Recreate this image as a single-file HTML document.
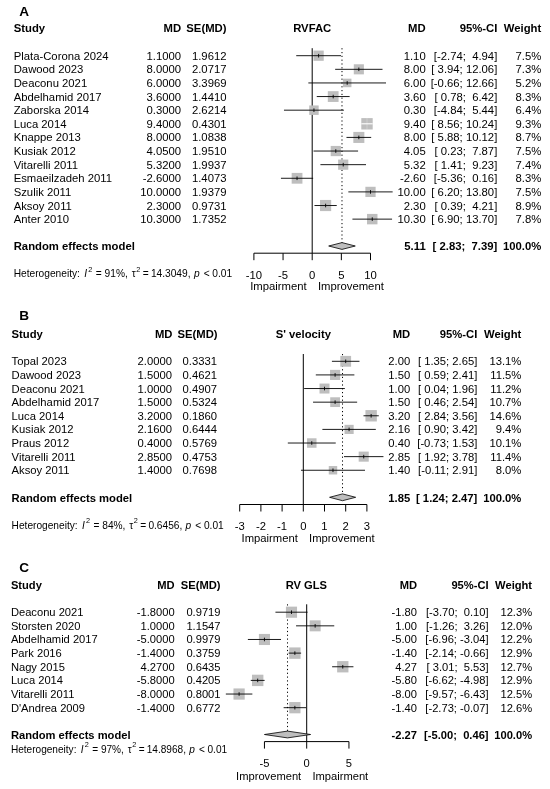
<!DOCTYPE html>
<html><head><meta charset="utf-8"><title>Forest plots</title>
<style>html,body{margin:0;padding:0;background:#fff}svg{display:block}text{font-family:"Liberation Sans",sans-serif;fill:#000;white-space:pre}</style></head>
<body><svg width="550" height="789" viewBox="0 0 550 789">
<text x="19.2" y="15.9" text-anchor="start" style="font-size:13.6px;font-weight:bold;" >A</text>
<text x="13.7" y="32.3" text-anchor="start" style="font-size:11.3px;font-weight:bold;" >Study</text>
<text x="181.1" y="32.3" text-anchor="end" style="font-size:11.3px;font-weight:bold;" >MD</text>
<text x="226.5" y="32.3" text-anchor="end" style="font-size:11.3px;font-weight:bold;" >SE(MD)</text>
<text x="312.2" y="32.3" text-anchor="middle" style="font-size:11.3px;font-weight:bold;" >RVFAC</text>
<text x="425.7" y="32.3" text-anchor="end" style="font-size:11.3px;font-weight:bold;" >MD</text>
<text x="497.3" y="32.3" text-anchor="end" style="font-size:11.3px;font-weight:bold;" >95%-CI</text>
<text x="541.3" y="32.3" text-anchor="end" style="font-size:11.3px;font-weight:bold;" >Weight</text>
<line x1="312.2" y1="48.2" x2="312.2" y2="253.2" stroke="#000" stroke-width="1"/>
<line x1="341.99129999999997" y1="48.2" x2="341.99129999999997" y2="246.4" stroke="#000" stroke-width="1" stroke-dasharray="1.2,2.6"/>
<text x="13.7" y="59.7" text-anchor="start" style="font-size:11.3px;" >Plata-Corona 2024</text>
<text x="181.1" y="59.7" text-anchor="end" style="font-size:11.3px;" >1.1000</text>
<text x="226.5" y="59.7" text-anchor="end" style="font-size:11.3px;" >1.9612</text>
<text x="425.7" y="59.7" text-anchor="end" style="font-size:11.3px;" >1.10</text>
<text x="497.3" y="59.7" text-anchor="end" style="font-size:11.3px;" xml:space="preserve">[-2.74;  4.94]</text>
<text x="541.3" y="59.7" text-anchor="end" style="font-size:11.3px;" >7.5%</text>
<rect x="313.49" y="50.58" width="10.24" height="10.24" fill="#bebebe"/>
<line x1="296.23" y1="55.7" x2="341.00" y2="55.7" stroke="#000" stroke-width="0.9"/>
<line x1="318.61" y1="53.900000000000006" x2="318.61" y2="57.5" stroke="#000" stroke-width="0.9"/>
<text x="13.7" y="73.32000000000001" text-anchor="start" style="font-size:11.3px;" >Dawood 2023</text>
<text x="181.1" y="73.32000000000001" text-anchor="end" style="font-size:11.3px;" >8.0000</text>
<text x="226.5" y="73.32000000000001" text-anchor="end" style="font-size:11.3px;" >2.0717</text>
<text x="425.7" y="73.32000000000001" text-anchor="end" style="font-size:11.3px;" >8.00</text>
<text x="497.3" y="73.32000000000001" text-anchor="end" style="font-size:11.3px;" xml:space="preserve">[ 3.94; 12.06]</text>
<text x="541.3" y="73.32000000000001" text-anchor="end" style="font-size:11.3px;" >7.3%</text>
<rect x="353.79" y="64.27" width="10.10" height="10.10" fill="#bebebe"/>
<line x1="335.17" y1="69.32000000000001" x2="382.51" y2="69.32000000000001" stroke="#000" stroke-width="0.9"/>
<line x1="358.84" y1="67.52000000000001" x2="358.84" y2="71.12" stroke="#000" stroke-width="0.9"/>
<text x="13.7" y="86.94" text-anchor="start" style="font-size:11.3px;" >Deaconu 2021</text>
<text x="181.1" y="86.94" text-anchor="end" style="font-size:11.3px;" >6.0000</text>
<text x="226.5" y="86.94" text-anchor="end" style="font-size:11.3px;" >3.3969</text>
<text x="425.7" y="86.94" text-anchor="end" style="font-size:11.3px;" >6.00</text>
<text x="497.3" y="86.94" text-anchor="end" style="font-size:11.3px;" xml:space="preserve">[-0.66; 12.66]</text>
<text x="541.3" y="86.94" text-anchor="end" style="font-size:11.3px;" >5.2%</text>
<rect x="342.92" y="78.68" width="8.52" height="8.52" fill="#bebebe"/>
<line x1="308.35" y1="82.94" x2="386.01" y2="82.94" stroke="#000" stroke-width="0.9"/>
<line x1="347.18" y1="81.14" x2="347.18" y2="84.74" stroke="#000" stroke-width="0.9"/>
<text x="13.7" y="100.56" text-anchor="start" style="font-size:11.3px;" >Abdelhamid 2017</text>
<text x="181.1" y="100.56" text-anchor="end" style="font-size:11.3px;" >3.6000</text>
<text x="226.5" y="100.56" text-anchor="end" style="font-size:11.3px;" >1.4410</text>
<text x="425.7" y="100.56" text-anchor="end" style="font-size:11.3px;" >3.60</text>
<text x="497.3" y="100.56" text-anchor="end" style="font-size:11.3px;" xml:space="preserve">[ 0.78;  6.42]</text>
<text x="541.3" y="100.56" text-anchor="end" style="font-size:11.3px;" >8.3%</text>
<rect x="327.80" y="91.18" width="10.77" height="10.77" fill="#bebebe"/>
<line x1="316.75" y1="96.56" x2="349.63" y2="96.56" stroke="#000" stroke-width="0.9"/>
<line x1="333.19" y1="94.76" x2="333.19" y2="98.36" stroke="#000" stroke-width="0.9"/>
<text x="13.7" y="114.18" text-anchor="start" style="font-size:11.3px;" >Zaborska 2014</text>
<text x="181.1" y="114.18" text-anchor="end" style="font-size:11.3px;" >0.3000</text>
<text x="226.5" y="114.18" text-anchor="end" style="font-size:11.3px;" >2.6214</text>
<text x="425.7" y="114.18" text-anchor="end" style="font-size:11.3px;" >0.30</text>
<text x="497.3" y="114.18" text-anchor="end" style="font-size:11.3px;" xml:space="preserve">[-4.84;  5.44]</text>
<text x="541.3" y="114.18" text-anchor="end" style="font-size:11.3px;" >6.4%</text>
<rect x="309.22" y="105.45" width="9.46" height="9.46" fill="#bebebe"/>
<line x1="283.98" y1="110.18" x2="343.92" y2="110.18" stroke="#000" stroke-width="0.9"/>
<line x1="313.95" y1="108.38000000000001" x2="313.95" y2="111.98" stroke="#000" stroke-width="0.9"/>
<text x="13.7" y="127.8" text-anchor="start" style="font-size:11.3px;" >Luca 2014</text>
<text x="181.1" y="127.8" text-anchor="end" style="font-size:11.3px;" >9.4000</text>
<text x="226.5" y="127.8" text-anchor="end" style="font-size:11.3px;" >0.4301</text>
<text x="425.7" y="127.8" text-anchor="end" style="font-size:11.3px;" >9.40</text>
<text x="497.3" y="127.8" text-anchor="end" style="font-size:11.3px;" xml:space="preserve">[ 8.56; 10.24]</text>
<text x="541.3" y="127.8" text-anchor="end" style="font-size:11.3px;" >9.3%</text>
<rect x="361.30" y="118.10" width="11.40" height="11.40" fill="#bebebe"/>
<line x1="361.30" y1="123.8" x2="372.70" y2="123.8" stroke="#fff" stroke-width="1.1"/>
<line x1="367.00" y1="118.10" x2="367.00" y2="129.50" stroke="#fff" stroke-width="1" stroke-opacity="0.25"/>
<text x="13.7" y="141.42000000000002" text-anchor="start" style="font-size:11.3px;" >Knappe 2013</text>
<text x="181.1" y="141.42000000000002" text-anchor="end" style="font-size:11.3px;" >8.0000</text>
<text x="226.5" y="141.42000000000002" text-anchor="end" style="font-size:11.3px;" >1.0838</text>
<text x="425.7" y="141.42000000000002" text-anchor="end" style="font-size:11.3px;" >8.00</text>
<text x="497.3" y="141.42000000000002" text-anchor="end" style="font-size:11.3px;" xml:space="preserve">[ 5.88; 10.12]</text>
<text x="541.3" y="141.42000000000002" text-anchor="end" style="font-size:11.3px;" >8.7%</text>
<rect x="353.33" y="131.91" width="11.03" height="11.03" fill="#bebebe"/>
<line x1="346.48" y1="137.42000000000002" x2="371.20" y2="137.42000000000002" stroke="#000" stroke-width="0.9"/>
<line x1="358.84" y1="135.62" x2="358.84" y2="139.22000000000003" stroke="#000" stroke-width="0.9"/>
<text x="13.7" y="155.04" text-anchor="start" style="font-size:11.3px;" >Kusiak 2012</text>
<text x="181.1" y="155.04" text-anchor="end" style="font-size:11.3px;" >4.0500</text>
<text x="226.5" y="155.04" text-anchor="end" style="font-size:11.3px;" >1.9510</text>
<text x="425.7" y="155.04" text-anchor="end" style="font-size:11.3px;" >4.05</text>
<text x="497.3" y="155.04" text-anchor="end" style="font-size:11.3px;" xml:space="preserve">[ 0.23;  7.87]</text>
<text x="541.3" y="155.04" text-anchor="end" style="font-size:11.3px;" >7.5%</text>
<rect x="330.69" y="145.92" width="10.24" height="10.24" fill="#bebebe"/>
<line x1="313.54" y1="151.04" x2="358.08" y2="151.04" stroke="#000" stroke-width="0.9"/>
<line x1="335.81" y1="149.23999999999998" x2="335.81" y2="152.84" stroke="#000" stroke-width="0.9"/>
<text x="13.7" y="168.66" text-anchor="start" style="font-size:11.3px;" >Vitarelli 2011</text>
<text x="181.1" y="168.66" text-anchor="end" style="font-size:11.3px;" >5.3200</text>
<text x="226.5" y="168.66" text-anchor="end" style="font-size:11.3px;" >1.9937</text>
<text x="425.7" y="168.66" text-anchor="end" style="font-size:11.3px;" >5.32</text>
<text x="497.3" y="168.66" text-anchor="end" style="font-size:11.3px;" xml:space="preserve">[ 1.41;  9.23]</text>
<text x="541.3" y="168.66" text-anchor="end" style="font-size:11.3px;" >7.4%</text>
<rect x="338.13" y="159.58" width="10.17" height="10.17" fill="#bebebe"/>
<line x1="320.42" y1="164.66" x2="366.01" y2="164.66" stroke="#000" stroke-width="0.9"/>
<line x1="343.22" y1="162.85999999999999" x2="343.22" y2="166.46" stroke="#000" stroke-width="0.9"/>
<text x="13.7" y="182.28" text-anchor="start" style="font-size:11.3px;" >Esmaeilzadeh 2011</text>
<text x="181.1" y="182.28" text-anchor="end" style="font-size:11.3px;" >-2.6000</text>
<text x="226.5" y="182.28" text-anchor="end" style="font-size:11.3px;" >1.4073</text>
<text x="425.7" y="182.28" text-anchor="end" style="font-size:11.3px;" >-2.60</text>
<text x="497.3" y="182.28" text-anchor="end" style="font-size:11.3px;" xml:space="preserve">[-5.36;  0.16]</text>
<text x="541.3" y="182.28" text-anchor="end" style="font-size:11.3px;" >8.3%</text>
<rect x="291.66" y="172.90" width="10.77" height="10.77" fill="#bebebe"/>
<line x1="280.95" y1="178.28" x2="313.13" y2="178.28" stroke="#000" stroke-width="0.9"/>
<line x1="297.04" y1="176.48" x2="297.04" y2="180.08" stroke="#000" stroke-width="0.9"/>
<text x="13.7" y="195.89999999999998" text-anchor="start" style="font-size:11.3px;" >Szulik 2011</text>
<text x="181.1" y="195.89999999999998" text-anchor="end" style="font-size:11.3px;" >10.0000</text>
<text x="226.5" y="195.89999999999998" text-anchor="end" style="font-size:11.3px;" >1.9379</text>
<text x="425.7" y="195.89999999999998" text-anchor="end" style="font-size:11.3px;" >10.00</text>
<text x="497.3" y="195.89999999999998" text-anchor="end" style="font-size:11.3px;" xml:space="preserve">[ 6.20; 13.80]</text>
<text x="541.3" y="195.89999999999998" text-anchor="end" style="font-size:11.3px;" >7.5%</text>
<rect x="365.38" y="186.78" width="10.24" height="10.24" fill="#bebebe"/>
<line x1="348.35" y1="191.89999999999998" x2="392.65" y2="191.89999999999998" stroke="#000" stroke-width="0.9"/>
<line x1="370.50" y1="190.09999999999997" x2="370.50" y2="193.7" stroke="#000" stroke-width="0.9"/>
<text x="13.7" y="209.51999999999998" text-anchor="start" style="font-size:11.3px;" >Aksoy 2011</text>
<text x="181.1" y="209.51999999999998" text-anchor="end" style="font-size:11.3px;" >2.3000</text>
<text x="226.5" y="209.51999999999998" text-anchor="end" style="font-size:11.3px;" >0.9731</text>
<text x="425.7" y="209.51999999999998" text-anchor="end" style="font-size:11.3px;" >2.30</text>
<text x="497.3" y="209.51999999999998" text-anchor="end" style="font-size:11.3px;" xml:space="preserve">[ 0.39;  4.21]</text>
<text x="541.3" y="209.51999999999998" text-anchor="end" style="font-size:11.3px;" >8.9%</text>
<rect x="320.03" y="199.94" width="11.15" height="11.15" fill="#bebebe"/>
<line x1="314.47" y1="205.51999999999998" x2="336.74" y2="205.51999999999998" stroke="#000" stroke-width="0.9"/>
<line x1="325.61" y1="203.71999999999997" x2="325.61" y2="207.32" stroke="#000" stroke-width="0.9"/>
<text x="13.7" y="223.14" text-anchor="start" style="font-size:11.3px;" >Anter 2010</text>
<text x="181.1" y="223.14" text-anchor="end" style="font-size:11.3px;" >10.3000</text>
<text x="226.5" y="223.14" text-anchor="end" style="font-size:11.3px;" >1.7352</text>
<text x="425.7" y="223.14" text-anchor="end" style="font-size:11.3px;" >10.30</text>
<text x="497.3" y="223.14" text-anchor="end" style="font-size:11.3px;" xml:space="preserve">[ 6.90; 13.70]</text>
<text x="541.3" y="223.14" text-anchor="end" style="font-size:11.3px;" >7.8%</text>
<rect x="367.03" y="213.92" width="10.44" height="10.44" fill="#bebebe"/>
<line x1="352.43" y1="219.14" x2="392.07" y2="219.14" stroke="#000" stroke-width="0.9"/>
<line x1="372.25" y1="217.33999999999997" x2="372.25" y2="220.94" stroke="#000" stroke-width="0.9"/>
<text x="13.7" y="250.4" text-anchor="start" style="font-size:11.3px;font-weight:bold;" >Random effects model</text>
<text x="425.7" y="250.4" text-anchor="end" style="font-size:11.3px;font-weight:bold;" >5.11</text>
<text x="497.3" y="250.4" text-anchor="end" style="font-size:11.3px;font-weight:bold;" xml:space="preserve">[ 2.83;  7.39]</text>
<text x="541.3" y="250.4" text-anchor="end" style="font-size:11.3px;font-weight:bold;" >100.0%</text>
<polygon points="328.70,246.0 341.99,242.6 355.28,246.0 341.99,249.4" fill="#bebebe" stroke="#000" stroke-width="0.8"/>
<text x="13.7" y="277.3" style="font-size:10.20px" xml:space="preserve">Heterogeneity: <tspan font-style="italic" dx="1.4">I</tspan><tspan dx="1.3" dy="-5.8" font-size="7.3">2</tspan><tspan dy="5.8" dx="0.6"> = 91%, </tspan><tspan dx="1">τ</tspan><tspan dx="0.6" dy="-5.8" font-size="7.3">2</tspan><tspan dy="5.8" dx="-0.4"> =</tspan><tspan dx="-0.7"> 14.3049, </tspan><tspan font-style="italic" dx="0.5">p</tspan><tspan dx="1.3"> &lt;</tspan><tspan dx="-0.2"> 0.01</tspan></text>
<line x1="253.89999999999998" y1="253.2" x2="370.5" y2="253.2" stroke="#000" stroke-width="1"/>
<line x1="253.89999999999998" y1="253.2" x2="253.89999999999998" y2="260.2" stroke="#000" stroke-width="1"/>
<text x="253.89999999999998" y="278.7" text-anchor="middle" style="font-size:11.3px;" >-10</text>
<line x1="283.05" y1="253.2" x2="283.05" y2="260.2" stroke="#000" stroke-width="1"/>
<text x="283.05" y="278.7" text-anchor="middle" style="font-size:11.3px;" >-5</text>
<line x1="312.2" y1="253.2" x2="312.2" y2="260.2" stroke="#000" stroke-width="1"/>
<text x="312.2" y="278.7" text-anchor="middle" style="font-size:11.3px;" >0</text>
<line x1="341.34999999999997" y1="253.2" x2="341.34999999999997" y2="260.2" stroke="#000" stroke-width="1"/>
<text x="341.34999999999997" y="278.7" text-anchor="middle" style="font-size:11.3px;" >5</text>
<line x1="370.5" y1="253.2" x2="370.5" y2="260.2" stroke="#000" stroke-width="1"/>
<text x="370.5" y="278.7" text-anchor="middle" style="font-size:11.3px;" >10</text>
<text x="306.7" y="290.2" text-anchor="end" style="font-size:11.3px;" >Impairment</text>
<text x="317.9" y="290.2" text-anchor="start" style="font-size:11.3px;" >Improvement</text>
<text x="19.2" y="320.1" text-anchor="start" style="font-size:13.6px;font-weight:bold;" >B</text>
<text x="11.6" y="337.6" text-anchor="start" style="font-size:11.26px;font-weight:bold;" >Study</text>
<text x="172.5" y="337.6" text-anchor="end" style="font-size:11.26px;font-weight:bold;" >MD</text>
<text x="217.5" y="337.6" text-anchor="end" style="font-size:11.26px;font-weight:bold;" >SE(MD)</text>
<text x="303.3" y="337.6" text-anchor="middle" style="font-size:11.26px;font-weight:bold;" >S' velocity</text>
<text x="410.2" y="337.6" text-anchor="end" style="font-size:11.26px;font-weight:bold;" >MD</text>
<text x="477.3" y="337.6" text-anchor="end" style="font-size:11.26px;font-weight:bold;" >95%-CI</text>
<text x="521.3" y="337.6" text-anchor="end" style="font-size:11.26px;font-weight:bold;" >Weight</text>
<line x1="303.3" y1="354" x2="303.3" y2="504.5" stroke="#000" stroke-width="1"/>
<line x1="342.52" y1="354" x2="342.52" y2="497.7" stroke="#000" stroke-width="1" stroke-dasharray="1.2,2.6"/>
<text x="11.6" y="365.3" text-anchor="start" style="font-size:11.26px;" >Topal 2023</text>
<text x="172" y="365.3" text-anchor="end" style="font-size:11.26px;" >2.0000</text>
<text x="217" y="365.3" text-anchor="end" style="font-size:11.26px;" >0.3331</text>
<text x="410.2" y="365.3" text-anchor="end" style="font-size:11.26px;" >2.00</text>
<text x="477.3" y="365.3" text-anchor="end" style="font-size:11.26px;" xml:space="preserve">[ 1.35; 2.65]</text>
<text x="521.3" y="365.3" text-anchor="end" style="font-size:11.26px;" >13.1%</text>
<rect x="340.30" y="355.90" width="10.80" height="10.80" fill="#bebebe"/>
<line x1="331.92" y1="361.3" x2="359.48" y2="361.3" stroke="#000" stroke-width="0.9"/>
<line x1="345.70" y1="359.5" x2="345.70" y2="363.1" stroke="#000" stroke-width="0.9"/>
<text x="11.6" y="378.92" text-anchor="start" style="font-size:11.26px;" >Dawood 2023</text>
<text x="172" y="378.92" text-anchor="end" style="font-size:11.26px;" >1.5000</text>
<text x="217" y="378.92" text-anchor="end" style="font-size:11.26px;" >0.4621</text>
<text x="410.2" y="378.92" text-anchor="end" style="font-size:11.26px;" >1.50</text>
<text x="477.3" y="378.92" text-anchor="end" style="font-size:11.26px;" xml:space="preserve">[ 0.59; 2.41]</text>
<text x="521.3" y="378.92" text-anchor="end" style="font-size:11.26px;" >11.5%</text>
<rect x="330.04" y="369.86" width="10.12" height="10.12" fill="#bebebe"/>
<line x1="315.81" y1="374.92" x2="354.39" y2="374.92" stroke="#000" stroke-width="0.9"/>
<line x1="335.10" y1="373.12" x2="335.10" y2="376.72" stroke="#000" stroke-width="0.9"/>
<text x="11.6" y="392.54" text-anchor="start" style="font-size:11.26px;" >Deaconu 2021</text>
<text x="172" y="392.54" text-anchor="end" style="font-size:11.26px;" >1.0000</text>
<text x="217" y="392.54" text-anchor="end" style="font-size:11.26px;" >0.4907</text>
<text x="410.2" y="392.54" text-anchor="end" style="font-size:11.26px;" >1.00</text>
<text x="477.3" y="392.54" text-anchor="end" style="font-size:11.26px;" xml:space="preserve">[ 0.04; 1.96]</text>
<text x="521.3" y="392.54" text-anchor="end" style="font-size:11.26px;" >11.2%</text>
<rect x="319.51" y="383.55" width="9.98" height="9.98" fill="#bebebe"/>
<line x1="304.15" y1="388.54" x2="344.85" y2="388.54" stroke="#000" stroke-width="0.9"/>
<line x1="324.50" y1="386.74" x2="324.50" y2="390.34000000000003" stroke="#000" stroke-width="0.9"/>
<text x="11.6" y="406.16" text-anchor="start" style="font-size:11.26px;" >Abdelhamid 2017</text>
<text x="172" y="406.16" text-anchor="end" style="font-size:11.26px;" >1.5000</text>
<text x="217" y="406.16" text-anchor="end" style="font-size:11.26px;" >0.5324</text>
<text x="410.2" y="406.16" text-anchor="end" style="font-size:11.26px;" >1.50</text>
<text x="477.3" y="406.16" text-anchor="end" style="font-size:11.26px;" xml:space="preserve">[ 0.46; 2.54]</text>
<text x="521.3" y="406.16" text-anchor="end" style="font-size:11.26px;" >10.7%</text>
<rect x="330.22" y="397.28" width="9.76" height="9.76" fill="#bebebe"/>
<line x1="313.05" y1="402.16" x2="357.15" y2="402.16" stroke="#000" stroke-width="0.9"/>
<line x1="335.10" y1="400.36" x2="335.10" y2="403.96000000000004" stroke="#000" stroke-width="0.9"/>
<text x="11.6" y="419.78000000000003" text-anchor="start" style="font-size:11.26px;" >Luca 2014</text>
<text x="172" y="419.78000000000003" text-anchor="end" style="font-size:11.26px;" >3.2000</text>
<text x="217" y="419.78000000000003" text-anchor="end" style="font-size:11.26px;" >0.1860</text>
<text x="410.2" y="419.78000000000003" text-anchor="end" style="font-size:11.26px;" >3.20</text>
<text x="477.3" y="419.78000000000003" text-anchor="end" style="font-size:11.26px;" xml:space="preserve">[ 2.84; 3.56]</text>
<text x="521.3" y="419.78000000000003" text-anchor="end" style="font-size:11.26px;" >14.6%</text>
<rect x="365.44" y="410.08" width="11.40" height="11.40" fill="#bebebe"/>
<line x1="363.51" y1="415.78000000000003" x2="378.77" y2="415.78000000000003" stroke="#000" stroke-width="0.9"/>
<line x1="371.14" y1="413.98" x2="371.14" y2="417.58000000000004" stroke="#000" stroke-width="0.9"/>
<text x="11.6" y="433.4" text-anchor="start" style="font-size:11.26px;" >Kusiak 2012</text>
<text x="172" y="433.4" text-anchor="end" style="font-size:11.26px;" >2.1600</text>
<text x="217" y="433.4" text-anchor="end" style="font-size:11.26px;" >0.6444</text>
<text x="410.2" y="433.4" text-anchor="end" style="font-size:11.26px;" >2.16</text>
<text x="477.3" y="433.4" text-anchor="end" style="font-size:11.26px;" xml:space="preserve">[ 0.90; 3.42]</text>
<text x="521.3" y="433.4" text-anchor="end" style="font-size:11.26px;" >9.4%</text>
<rect x="344.52" y="424.83" width="9.15" height="9.15" fill="#bebebe"/>
<line x1="322.38" y1="429.4" x2="375.80" y2="429.4" stroke="#000" stroke-width="0.9"/>
<line x1="349.09" y1="427.59999999999997" x2="349.09" y2="431.2" stroke="#000" stroke-width="0.9"/>
<text x="11.6" y="447.02" text-anchor="start" style="font-size:11.26px;" >Praus 2012</text>
<text x="172" y="447.02" text-anchor="end" style="font-size:11.26px;" >0.4000</text>
<text x="217" y="447.02" text-anchor="end" style="font-size:11.26px;" >0.5769</text>
<text x="410.2" y="447.02" text-anchor="end" style="font-size:11.26px;" >0.40</text>
<text x="477.3" y="447.02" text-anchor="end" style="font-size:11.26px;" xml:space="preserve">[-0.73; 1.53]</text>
<text x="521.3" y="447.02" text-anchor="end" style="font-size:11.26px;" >10.1%</text>
<rect x="307.04" y="438.28" width="9.48" height="9.48" fill="#bebebe"/>
<line x1="287.82" y1="443.02" x2="335.74" y2="443.02" stroke="#000" stroke-width="0.9"/>
<line x1="311.78" y1="441.21999999999997" x2="311.78" y2="444.82" stroke="#000" stroke-width="0.9"/>
<text x="11.6" y="460.64" text-anchor="start" style="font-size:11.26px;" >Vitarelli 2011</text>
<text x="172" y="460.64" text-anchor="end" style="font-size:11.26px;" >2.8500</text>
<text x="217" y="460.64" text-anchor="end" style="font-size:11.26px;" >0.4753</text>
<text x="410.2" y="460.64" text-anchor="end" style="font-size:11.26px;" >2.85</text>
<text x="477.3" y="460.64" text-anchor="end" style="font-size:11.26px;" xml:space="preserve">[ 1.92; 3.78]</text>
<text x="521.3" y="460.64" text-anchor="end" style="font-size:11.26px;" >11.4%</text>
<rect x="358.68" y="451.60" width="10.07" height="10.07" fill="#bebebe"/>
<line x1="344.00" y1="456.64" x2="383.44" y2="456.64" stroke="#000" stroke-width="0.9"/>
<line x1="363.72" y1="454.84" x2="363.72" y2="458.44" stroke="#000" stroke-width="0.9"/>
<text x="11.6" y="474.26" text-anchor="start" style="font-size:11.26px;" >Aksoy 2011</text>
<text x="172" y="474.26" text-anchor="end" style="font-size:11.26px;" >1.4000</text>
<text x="217" y="474.26" text-anchor="end" style="font-size:11.26px;" >0.7698</text>
<text x="410.2" y="474.26" text-anchor="end" style="font-size:11.26px;" >1.40</text>
<text x="477.3" y="474.26" text-anchor="end" style="font-size:11.26px;" xml:space="preserve">[-0.11; 2.91]</text>
<text x="521.3" y="474.26" text-anchor="end" style="font-size:11.26px;" >8.0%</text>
<rect x="328.76" y="466.04" width="8.44" height="8.44" fill="#bebebe"/>
<line x1="300.97" y1="470.26" x2="364.99" y2="470.26" stroke="#000" stroke-width="0.9"/>
<line x1="332.98" y1="468.46" x2="332.98" y2="472.06" stroke="#000" stroke-width="0.9"/>
<text x="11.6" y="501.7" text-anchor="start" style="font-size:11.26px;font-weight:bold;" >Random effects model</text>
<text x="410.2" y="501.7" text-anchor="end" style="font-size:11.26px;font-weight:bold;" >1.85</text>
<text x="477.3" y="501.7" text-anchor="end" style="font-size:11.26px;font-weight:bold;" xml:space="preserve">[ 1.24; 2.47]</text>
<text x="521.3" y="501.7" text-anchor="end" style="font-size:11.26px;font-weight:bold;" >100.0%</text>
<polygon points="329.59,497.3 342.52,493.90000000000003 355.66,497.3 342.52,500.7" fill="#bebebe" stroke="#000" stroke-width="0.8"/>
<text x="11.6" y="529.1" style="font-size:10.16px" xml:space="preserve">Heterogeneity: <tspan font-style="italic" dx="1.4">I</tspan><tspan dx="1.3" dy="-5.8" font-size="7.3">2</tspan><tspan dy="5.8" dx="0.6"> = 84%, </tspan><tspan dx="1">τ</tspan><tspan dx="0.6" dy="-5.8" font-size="7.3">2</tspan><tspan dy="5.8" dx="-0.4"> =</tspan><tspan dx="-0.7"> 0.6456, </tspan><tspan font-style="italic" dx="0.5">p</tspan><tspan dx="1.3"> &lt;</tspan><tspan dx="-0.2"> 0.01</tspan></text>
<line x1="239.70000000000002" y1="504.5" x2="366.9" y2="504.5" stroke="#000" stroke-width="1"/>
<line x1="239.70000000000002" y1="504.5" x2="239.70000000000002" y2="511.5" stroke="#000" stroke-width="1"/>
<text x="239.70000000000002" y="529.6" text-anchor="middle" style="font-size:11.26px;" >-3</text>
<line x1="260.90000000000003" y1="504.5" x2="260.90000000000003" y2="511.5" stroke="#000" stroke-width="1"/>
<text x="260.90000000000003" y="529.6" text-anchor="middle" style="font-size:11.26px;" >-2</text>
<line x1="282.1" y1="504.5" x2="282.1" y2="511.5" stroke="#000" stroke-width="1"/>
<text x="282.1" y="529.6" text-anchor="middle" style="font-size:11.26px;" >-1</text>
<line x1="303.3" y1="504.5" x2="303.3" y2="511.5" stroke="#000" stroke-width="1"/>
<text x="303.3" y="529.6" text-anchor="middle" style="font-size:11.26px;" >0</text>
<line x1="324.5" y1="504.5" x2="324.5" y2="511.5" stroke="#000" stroke-width="1"/>
<text x="324.5" y="529.6" text-anchor="middle" style="font-size:11.26px;" >1</text>
<line x1="345.7" y1="504.5" x2="345.7" y2="511.5" stroke="#000" stroke-width="1"/>
<text x="345.7" y="529.6" text-anchor="middle" style="font-size:11.26px;" >2</text>
<line x1="366.9" y1="504.5" x2="366.9" y2="511.5" stroke="#000" stroke-width="1"/>
<text x="366.9" y="529.6" text-anchor="middle" style="font-size:11.26px;" >3</text>
<text x="297.8" y="541.9" text-anchor="end" style="font-size:11.26px;" >Impairment</text>
<text x="309.0" y="541.9" text-anchor="start" style="font-size:11.26px;" >Improvement</text>
<text x="19.2" y="571.9" text-anchor="start" style="font-size:13.6px;font-weight:bold;" >C</text>
<text x="10.9" y="589" text-anchor="start" style="font-size:11.17px;font-weight:bold;" >Study</text>
<text x="174.7" y="589" text-anchor="end" style="font-size:11.17px;font-weight:bold;" >MD</text>
<text x="220.5" y="589" text-anchor="end" style="font-size:11.17px;font-weight:bold;" >SE(MD)</text>
<text x="306.3" y="589" text-anchor="middle" style="font-size:11.17px;font-weight:bold;" >RV GLS</text>
<text x="417" y="589" text-anchor="end" style="font-size:11.17px;font-weight:bold;" >MD</text>
<text x="488.6" y="589" text-anchor="end" style="font-size:11.17px;font-weight:bold;" >95%-CI</text>
<text x="532.1" y="589" text-anchor="end" style="font-size:11.17px;font-weight:bold;" >Weight</text>
<line x1="306.7" y1="604.3" x2="306.7" y2="741.6" stroke="#000" stroke-width="1"/>
<line x1="287.5185" y1="604.3" x2="287.5185" y2="734.9" stroke="#000" stroke-width="1" stroke-dasharray="1.2,2.6"/>
<text x="10.9" y="616.2" text-anchor="start" style="font-size:11.17px;" >Deaconu 2021</text>
<text x="174.7" y="616.2" text-anchor="end" style="font-size:11.17px;" >-1.8000</text>
<text x="220.5" y="616.2" text-anchor="end" style="font-size:11.17px;" >0.9719</text>
<text x="417" y="616.2" text-anchor="end" style="font-size:11.17px;" >-1.80</text>
<text x="488.6" y="616.2" text-anchor="end" style="font-size:11.17px;" xml:space="preserve">[-3.70;  0.10]</text>
<text x="532.1" y="616.2" text-anchor="end" style="font-size:11.17px;" >12.3%</text>
<rect x="285.92" y="606.63" width="11.13" height="11.13" fill="#bebebe"/>
<line x1="275.44" y1="612.2" x2="307.55" y2="612.2" stroke="#000" stroke-width="0.9"/>
<line x1="291.49" y1="610.4000000000001" x2="291.49" y2="614.0" stroke="#000" stroke-width="0.9"/>
<text x="10.9" y="629.84" text-anchor="start" style="font-size:11.17px;" >Storsten 2020</text>
<text x="174.7" y="629.84" text-anchor="end" style="font-size:11.17px;" >1.0000</text>
<text x="220.5" y="629.84" text-anchor="end" style="font-size:11.17px;" >1.1547</text>
<text x="417" y="629.84" text-anchor="end" style="font-size:11.17px;" >1.00</text>
<text x="488.6" y="629.84" text-anchor="end" style="font-size:11.17px;" xml:space="preserve">[-1.26;  3.26]</text>
<text x="532.1" y="629.84" text-anchor="end" style="font-size:11.17px;" >12.0%</text>
<rect x="309.65" y="620.34" width="11.00" height="11.00" fill="#bebebe"/>
<line x1="296.05" y1="625.84" x2="334.25" y2="625.84" stroke="#000" stroke-width="0.9"/>
<line x1="315.15" y1="624.0400000000001" x2="315.15" y2="627.64" stroke="#000" stroke-width="0.9"/>
<text x="10.9" y="643.48" text-anchor="start" style="font-size:11.17px;" >Abdelhamid 2017</text>
<text x="174.7" y="643.48" text-anchor="end" style="font-size:11.17px;" >-5.0000</text>
<text x="220.5" y="643.48" text-anchor="end" style="font-size:11.17px;" >0.9979</text>
<text x="417" y="643.48" text-anchor="end" style="font-size:11.17px;" >-5.00</text>
<text x="488.6" y="643.48" text-anchor="end" style="font-size:11.17px;" xml:space="preserve">[-6.96; -3.04]</text>
<text x="532.1" y="643.48" text-anchor="end" style="font-size:11.17px;" >12.2%</text>
<rect x="258.91" y="633.94" width="11.09" height="11.09" fill="#bebebe"/>
<line x1="247.89" y1="639.48" x2="281.01" y2="639.48" stroke="#000" stroke-width="0.9"/>
<line x1="264.45" y1="637.6800000000001" x2="264.45" y2="641.28" stroke="#000" stroke-width="0.9"/>
<text x="10.9" y="657.12" text-anchor="start" style="font-size:11.17px;" >Park 2016</text>
<text x="174.7" y="657.12" text-anchor="end" style="font-size:11.17px;" >-1.4000</text>
<text x="220.5" y="657.12" text-anchor="end" style="font-size:11.17px;" >0.3759</text>
<text x="417" y="657.12" text-anchor="end" style="font-size:11.17px;" >-1.40</text>
<text x="488.6" y="657.12" text-anchor="end" style="font-size:11.17px;" xml:space="preserve">[-2.14; -0.66]</text>
<text x="532.1" y="657.12" text-anchor="end" style="font-size:11.17px;" >12.9%</text>
<rect x="289.17" y="647.42" width="11.40" height="11.40" fill="#bebebe"/>
<line x1="288.62" y1="653.12" x2="301.12" y2="653.12" stroke="#000" stroke-width="0.9"/>
<line x1="294.87" y1="651.32" x2="294.87" y2="654.92" stroke="#000" stroke-width="0.9"/>
<text x="10.9" y="670.76" text-anchor="start" style="font-size:11.17px;" >Nagy 2015</text>
<text x="174.7" y="670.76" text-anchor="end" style="font-size:11.17px;" >4.2700</text>
<text x="220.5" y="670.76" text-anchor="end" style="font-size:11.17px;" >0.6435</text>
<text x="417" y="670.76" text-anchor="end" style="font-size:11.17px;" >4.27</text>
<text x="488.6" y="670.76" text-anchor="end" style="font-size:11.17px;" xml:space="preserve">[ 3.01;  5.53]</text>
<text x="532.1" y="670.76" text-anchor="end" style="font-size:11.17px;" >12.7%</text>
<rect x="337.13" y="661.10" width="11.31" height="11.31" fill="#bebebe"/>
<line x1="332.13" y1="666.76" x2="353.43" y2="666.76" stroke="#000" stroke-width="0.9"/>
<line x1="342.78" y1="664.96" x2="342.78" y2="668.56" stroke="#000" stroke-width="0.9"/>
<text x="10.9" y="684.4000000000001" text-anchor="start" style="font-size:11.17px;" >Luca 2014</text>
<text x="174.7" y="684.4000000000001" text-anchor="end" style="font-size:11.17px;" >-5.8000</text>
<text x="220.5" y="684.4000000000001" text-anchor="end" style="font-size:11.17px;" >0.4205</text>
<text x="417" y="684.4000000000001" text-anchor="end" style="font-size:11.17px;" >-5.80</text>
<text x="488.6" y="684.4000000000001" text-anchor="end" style="font-size:11.17px;" xml:space="preserve">[-6.62; -4.98]</text>
<text x="532.1" y="684.4000000000001" text-anchor="end" style="font-size:11.17px;" >12.9%</text>
<rect x="251.99" y="674.70" width="11.40" height="11.40" fill="#bebebe"/>
<line x1="250.76" y1="680.4000000000001" x2="264.62" y2="680.4000000000001" stroke="#000" stroke-width="0.9"/>
<line x1="257.69" y1="678.6000000000001" x2="257.69" y2="682.2" stroke="#000" stroke-width="0.9"/>
<text x="10.9" y="698.0400000000001" text-anchor="start" style="font-size:11.17px;" >Vitarelli 2011</text>
<text x="174.7" y="698.0400000000001" text-anchor="end" style="font-size:11.17px;" >-8.0000</text>
<text x="220.5" y="698.0400000000001" text-anchor="end" style="font-size:11.17px;" >0.8001</text>
<text x="417" y="698.0400000000001" text-anchor="end" style="font-size:11.17px;" >-8.00</text>
<text x="488.6" y="698.0400000000001" text-anchor="end" style="font-size:11.17px;" xml:space="preserve">[-9.57; -6.43]</text>
<text x="532.1" y="698.0400000000001" text-anchor="end" style="font-size:11.17px;" >12.5%</text>
<rect x="233.49" y="688.43" width="11.22" height="11.22" fill="#bebebe"/>
<line x1="225.83" y1="694.0400000000001" x2="252.37" y2="694.0400000000001" stroke="#000" stroke-width="0.9"/>
<line x1="239.10" y1="692.2400000000001" x2="239.10" y2="695.84" stroke="#000" stroke-width="0.9"/>
<text x="10.9" y="711.6800000000001" text-anchor="start" style="font-size:11.17px;" >D'Andrea 2009</text>
<text x="174.7" y="711.6800000000001" text-anchor="end" style="font-size:11.17px;" >-1.4000</text>
<text x="220.5" y="711.6800000000001" text-anchor="end" style="font-size:11.17px;" >0.6772</text>
<text x="417" y="711.6800000000001" text-anchor="end" style="font-size:11.17px;" >-1.40</text>
<text x="488.6" y="711.6800000000001" text-anchor="end" style="font-size:11.17px;" xml:space="preserve">[-2.73; -0.07]</text>
<text x="532.1" y="711.6800000000001" text-anchor="end" style="font-size:11.17px;" >12.6%</text>
<rect x="289.24" y="702.05" width="11.27" height="11.27" fill="#bebebe"/>
<line x1="283.63" y1="707.6800000000001" x2="306.11" y2="707.6800000000001" stroke="#000" stroke-width="0.9"/>
<line x1="294.87" y1="705.8800000000001" x2="294.87" y2="709.48" stroke="#000" stroke-width="0.9"/>
<text x="10.9" y="738.9" text-anchor="start" style="font-size:11.17px;font-weight:bold;" >Random effects model</text>
<text x="417" y="738.9" text-anchor="end" style="font-size:11.17px;font-weight:bold;" >-2.27</text>
<text x="488.6" y="738.9" text-anchor="end" style="font-size:11.17px;font-weight:bold;" xml:space="preserve">[-5.00;  0.46]</text>
<text x="532.1" y="738.9" text-anchor="end" style="font-size:11.17px;font-weight:bold;" >100.0%</text>
<polygon points="264.45,734.5 287.52,731.1 310.59,734.5 287.52,737.9" fill="#bebebe" stroke="#000" stroke-width="0.8"/>
<text x="10.9" y="753.1" style="font-size:10.08px" xml:space="preserve">Heterogeneity: <tspan font-style="italic" dx="1.4">I</tspan><tspan dx="1.3" dy="-5.8" font-size="7.3">2</tspan><tspan dy="5.8" dx="0.6"> = 97%, </tspan><tspan dx="1">τ</tspan><tspan dx="0.6" dy="-5.8" font-size="7.3">2</tspan><tspan dy="5.8" dx="-0.4"> =</tspan><tspan dx="-0.7"> 14.8968, </tspan><tspan font-style="italic" dx="0.5">p</tspan><tspan dx="1.3"> &lt;</tspan><tspan dx="-0.2"> 0.01</tspan></text>
<line x1="264.45" y1="741.6" x2="348.95" y2="741.6" stroke="#000" stroke-width="1"/>
<line x1="264.45" y1="741.6" x2="264.45" y2="748.6" stroke="#000" stroke-width="1"/>
<text x="264.45" y="766.7" text-anchor="middle" style="font-size:11.17px;" >-5</text>
<line x1="306.7" y1="741.6" x2="306.7" y2="748.6" stroke="#000" stroke-width="1"/>
<text x="306.7" y="766.7" text-anchor="middle" style="font-size:11.17px;" >0</text>
<line x1="348.95" y1="741.6" x2="348.95" y2="748.6" stroke="#000" stroke-width="1"/>
<text x="348.95" y="766.7" text-anchor="middle" style="font-size:11.17px;" >5</text>
<text x="301.2" y="780" text-anchor="end" style="font-size:11.17px;" >Improvement</text>
<text x="312.4" y="780" text-anchor="start" style="font-size:11.17px;" >Impairment</text>
</svg></body></html>
